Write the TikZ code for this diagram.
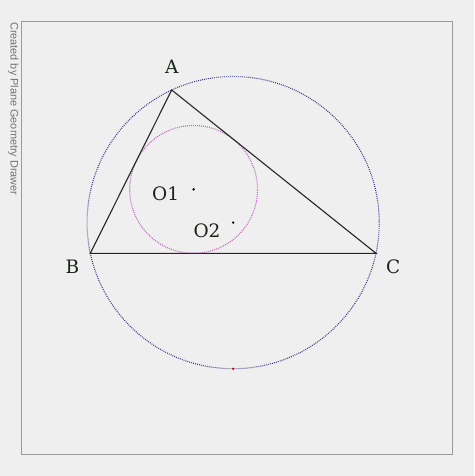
\documentclass[tikz,border=0pt]{standalone}
\usepackage{fontspec}
\setmainfont{Liberation Serif}
\newfontfamily\lblfont{DejaVu Serif}
\newfontfamily\credfont{Liberation Sans}
\definecolor{bgc}{HTML}{EFEFEF}
\definecolor{framec}{HTML}{9A9A9A}
\definecolor{circc}{HTML}{3A3A8A}
\definecolor{incc}{HTML}{C060C0}
\definecolor{txtc}{HTML}{1A251A}
\tikzset{
  lbl/.style={font=\lblfont\fontsize{18.5}{19}\selectfont, text=txtc, inner sep=0pt},
  side/.style={draw=black!85, line width=1.1pt},
  dotcirc/.style={line width=1.1pt, dash pattern=on 0.9pt off 1.1pt},
  ptdot/.style={fill=black, circle, inner sep=0pt, minimum size=2.6pt}
}
\begin{document}
\begin{tikzpicture}[x=1pt,y=-1pt]
\fill[bgc] (0,0) rectangle (474,476);
\useasboundingbox (0,0) rectangle (474,476);
\node[draw=framec, line width=0.8pt, minimum width=431pt, minimum height=433pt, inner sep=0pt] (frame) at (236.5,237.5) {};
\node[rotate=-90, anchor=west, text=black!55, font=\credfont\fontsize{10.9}{11}\selectfont, inner sep=0pt] (credit) at (13.5,22) {Created by Plane Geometry Drawer};
% points
\coordinate (A) at (171.7,90);
\coordinate (B) at (90.3,253.3);
\coordinate (C) at (376,253.3);
\coordinate (O2) at (233.15,222.6);
\coordinate (O1) at (193.6,189.4);
% circles
\draw[dotcirc, draw=circc] (O2) circle[radius=146.1pt];
\draw[dotcirc, draw=incc] (O1) circle[radius=63.9pt];
% triangle
\draw[side, line join=miter] (A) -- (B) -- (C) -- cycle;
% centers
\node[ptdot] (o1dot) at (O1) {};
\node[ptdot] (o2dot) at (O2) {};
\node[fill=red!80!black, circle, inner sep=0pt, minimum size=2.6pt] (mdot) at (233.15,368.7) {};
% labels
\node[lbl] (la) at (171.7,66.7) {A};
\node[lbl] (lb) at (72.3,266.7) {B};
\node[lbl] (lc) at (393.3,266.7) {C};
\node[lbl] (lo1) at (165.7,193.3) {O1};
\node[lbl] (lo2) at (207,231) {O2};
\end{tikzpicture}
\end{document}
